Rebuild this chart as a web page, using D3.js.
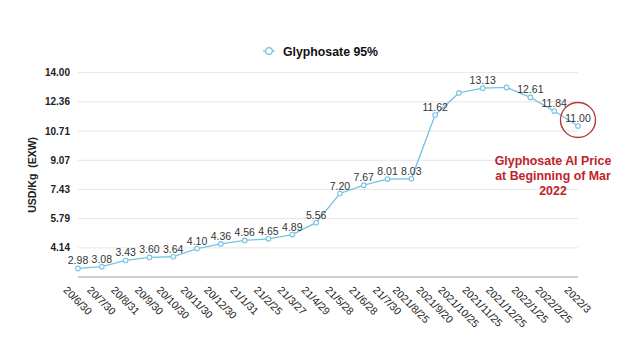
<!DOCTYPE html>
<html>
<head>
<meta charset="utf-8">
<script src="https://cdn.jsdelivr.net/npm/d3@7"></script>
<style>
  html, body { margin: 0; padding: 0; background: #fff; }
  svg { display: block; font-family: "Liberation Sans", Arial, Helvetica, sans-serif; }
</style>
</head>
<body>
<svg id="chart" width="640" height="349"></svg>
<script>
const categories = ["20/6/30","20/7/30","20/8/31","20/9/30","20/10/30","20/11/30","20/12/30",
  "21/1/31","21/2/25","21/3/27","21/4/29","21/5/28","21/6/28","21/7/30","2021/8/25","2021/9/20",
  "2021/10/25","2021/11/25","2021/12/25","2022/1/25","2022/2/25","2022/3"];
const values = [2.98,3.08,3.43,3.60,3.64,4.10,4.36,4.56,4.65,4.89,5.56,7.20,7.67,8.01,8.03,11.62,
  12.86,13.13,13.17,12.61,11.84,11.00];
const pointLabels = ["2.98","3.08","3.43","3.60","3.64","4.10","4.36","4.56","4.65","4.89","5.56",
  "7.20","7.67","8.01","8.03","11.62","","13.13","","12.61","11.84","11.00"];
const yTicks = [4.14,5.79,7.43,9.07,10.71,12.36,14.00];
const yMin = 2.5, yMax = 14.0;
const seriesName = "Glyphosate 95%";
const yTitle = "USD/Kg\u00a0\u00a0(EXW)";
const noteLines = ["Glyphosate AI Price","at Beginning of Mar","2022"];

const svg = d3.select("#chart");
const pLeft = 78, pRight = 578, pTop = 72.7, pBottom = 277;
const blue = "#78c3e3";
const red = "#c0232b";

const x = d3.scalePoint().domain(categories).range([pLeft, pRight]).padding(0);
const y = d3.scaleLinear().domain([yMin, yMax]).range([pBottom, pTop]);

// gridlines
svg.append("g").selectAll("line").data(yTicks).join("line")
  .attr("x1", pLeft).attr("x2", pRight)
  .attr("y1", d => y(d)).attr("y2", d => y(d))
  .attr("stroke", "#e6e6e6").attr("stroke-width", 1);

// y tick labels
svg.append("g").selectAll("text").data(yTicks).join("text")
  .attr("x", 70).attr("y", d => y(d)).attr("dy", "0.35em")
  .attr("text-anchor", "end").attr("font-size", 10).attr("font-weight", "bold")
  .attr("fill", "#222").text(d => d.toFixed(2));

// x axis line
svg.append("line").attr("x1", pLeft).attr("x2", pRight)
  .attr("y1", y(yMin)).attr("y2", y(yMin))
  .attr("stroke", "#bdbdbd").attr("stroke-width", 1.5);

// x tick labels (rotated)
const xl = svg.append("g").selectAll("text").data(categories).join("text")
  .attr("text-anchor", "middle").attr("dominant-baseline", "central")
  .attr("font-size", 10.5).attr("fill", "#222").text(d => d);
xl.each(function(d) {
  const L = this.getComputedTextLength();
  const cy = 285 + L * 0.354 + 3;
  d3.select(this).attr("transform", `translate(${x(d)},${cy}) rotate(45)`);
});

// y axis title
svg.append("text")
  .attr("transform", `translate(36,${(pTop + pBottom) / 2}) rotate(-90)`)
  .attr("text-anchor", "middle").attr("font-size", 10.5).attr("font-weight", "bold")
  .attr("fill", "#222").style("white-space", "pre").text(yTitle);

// line
const line = d3.line().x((d, i) => x(categories[i])).y(d => y(d));
svg.append("path").datum(values).attr("d", line)
  .attr("fill", "none").attr("stroke", blue).attr("stroke-width", 1.3);

// markers
svg.append("g").selectAll("circle").data(values).join("circle")
  .attr("cx", (d, i) => x(categories[i])).attr("cy", d => y(d)).attr("r", 2.3)
  .attr("fill", "#fff").attr("stroke", blue).attr("stroke-width", 1.1);

// point labels
svg.append("g").selectAll("text").data(values).join("text")
  .attr("x", (d, i) => x(categories[i])).attr("y", d => y(d) - 4)
  .attr("text-anchor", "middle").attr("font-size", 10.5).attr("fill", "#333")
  .text((d, i) => pointLabels[i]);

// legend
const lg = svg.append("g");
lg.append("line").attr("x1", 263).attr("x2", 275).attr("y1", 51).attr("y2", 51)
  .attr("stroke", blue).attr("stroke-width", 1.3);
lg.append("circle").attr("cx", 269).attr("cy", 51).attr("r", 3.3)
  .attr("fill", "#fff").attr("stroke", blue).attr("stroke-width", 1.3);
lg.append("text").attr("x", 283).attr("y", 55.5).attr("font-size", 12.3)
  .attr("font-weight", "bold").attr("fill", "#111").text(seriesName);

// annotation
const lastI = values.length - 1;
svg.append("circle").attr("cx", x(categories[lastI])).attr("cy", y(values[lastI]) - 6)
  .attr("r", 17.5).attr("fill", "none").attr("stroke", "#b33a3a").attr("stroke-width", 1.4);
svg.append("g").selectAll("text").data(noteLines).join("text")
  .attr("x", 553).attr("y", (d, i) => 164.5 + i * 15.3)
  .attr("text-anchor", "middle").attr("font-size", 12.4).attr("font-weight", "bold")
  .attr("fill", red).text(d => d);
</script>
</body>
</html>
